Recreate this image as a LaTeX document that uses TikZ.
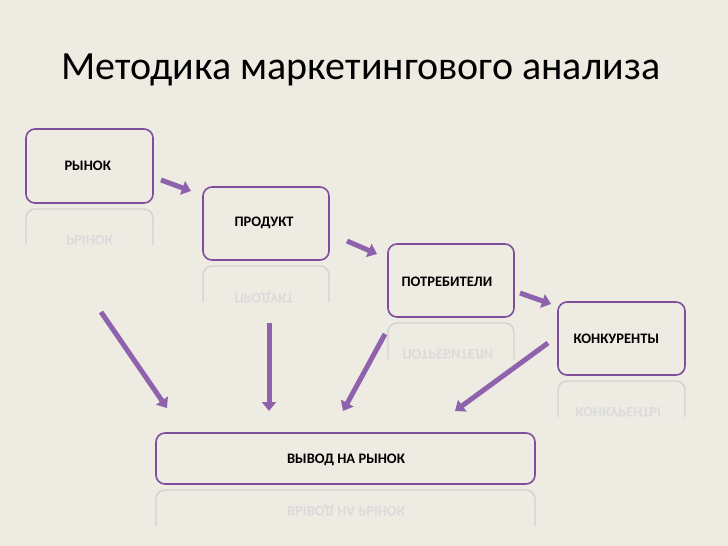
\documentclass[tikz,border=0pt]{standalone}
\usepackage{fontspec}
\setmainfont{Carlito}
\usetikzlibrary{arrows.meta}
\definecolor{bg}{HTML}{EEEBE3}
\definecolor{pur}{HTML}{7E4E9A}
\definecolor{arr}{HTML}{8F62AE}
\tikzset{
 box/.style={draw=pur,line width=1.6pt,rounded corners=9pt,fill=bg},
 lbl/.style={font=\bfseries\fontsize{14.5}{16}\selectfont,anchor=west},
 refl/.style={draw=black!18,line width=1.4pt,rounded corners=9pt},
 refltxt/.style={font=\bfseries\fontsize{14.5}{16}\selectfont,text=black!14,anchor=west,yscale=-1},
 conn/.style={draw=arr,line width=5pt,-{Triangle[length=9pt,width=14pt]}}
}
\begin{document}
\begin{tikzpicture}[x=1pt,y=-1pt]
\fill[bg] (0,0) rectangle (728,546);
\useasboundingbox (0,0) rectangle (728,546);
\node[font=\fontsize{40}{46}\selectfont,anchor=west] (title) at (58,70) {Методика маркетингового анализа};
% reflections
\foreach \xa/\xb/\yb in {26/153/203,203/329/260,388/514/317,558/685/375,156/535/484}{
 \draw[refl] (\xa,\yb+42) -- (\xa,\yb+6) -- (\xb,\yb+6) -- (\xb,\yb+42);
}
\node[refltxt] (r1) at (63,240) {РЫНОК};
\node[refltxt] (r2) at (231,297) {ПРОДУКТ};
\node[refltxt] (r3) at (399,354) {ПОТРЕБИТЕЛИ};
\node[refltxt] (r4) at (572,412) {КОНКУРЕНТЫ};
\node[refltxt,anchor=center] (r5) at (346,510) {ВЫВОД НА РЫНОК};
% boxes
\node[box,minimum width=127pt,minimum height=74pt] (b1) at (89.5,166) {};
\node[lbl] (t1) at (61,166) {РЫНОК};
\node[box,minimum width=126pt,minimum height=73pt] (b2) at (266,223.5) {};
\node[lbl] (t2) at (231,223) {ПРОДУКТ};
\node[box,minimum width=126pt,minimum height=73pt] (b3) at (451,280.5) {};
\node[lbl] (t3) at (398,282) {ПОТРЕБИТЕЛИ};
\node[box,minimum width=127pt,minimum height=73pt] (b4) at (621.5,338.5) {};
\node[lbl] (t4) at (570,339) {КОНКУРЕНТЫ};
\node[box,minimum width=379pt,minimum height=51pt] (b5) at (345.5,458.5) {};
\node[font=\bfseries\fontsize{14.5}{16}\selectfont] (t5) at (346,460) {ВЫВОД НА РЫНОК};
% arrows
\coordinate (a1s) at (161,180); \coordinate (a1e) at (191,191);
\coordinate (a2s) at (347,241); \coordinate (a2e) at (377,254);
\coordinate (a3s) at (520,293); \coordinate (a3e) at (551,304);
\coordinate (d1s) at (101,312); \coordinate (d1e) at (167,408);
\coordinate (d2s) at (269,323); \coordinate (d2e) at (269,411);
\coordinate (d3s) at (385,334); \coordinate (d3e) at (343,411);
\coordinate (d4s) at (548,343); \coordinate (d4e) at (455,411);
\foreach \s/\e in {a1s/a1e,a2s/a2e,a3s/a3e,d1s/d1e,d2s/d2e,d3s/d3e,d4s/d4e}
 \draw[conn] (\s) -- (\e);
\end{tikzpicture}
\end{document}
